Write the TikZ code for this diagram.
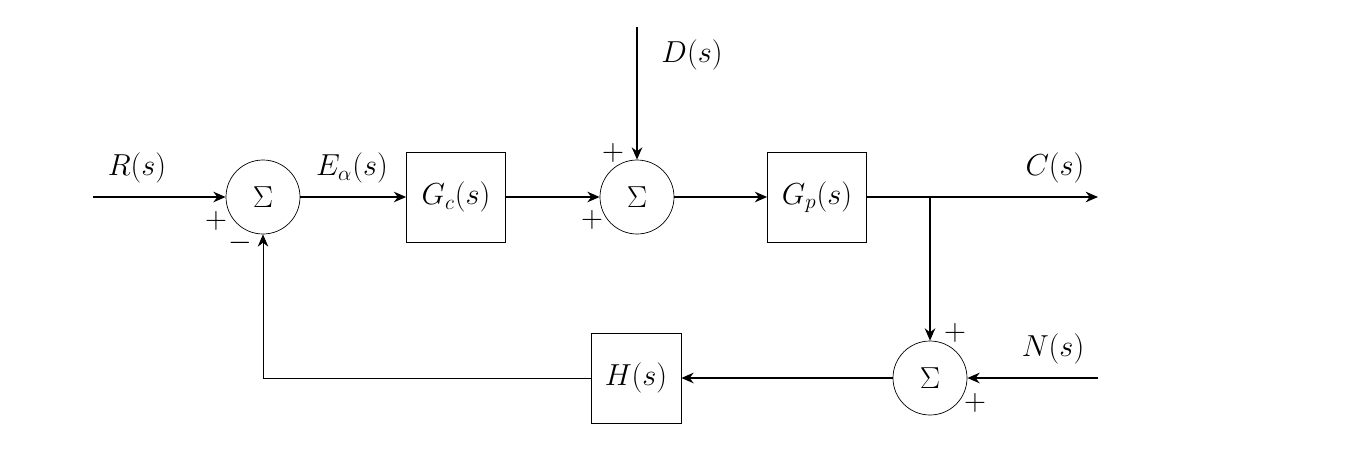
\documentclass[tikz,border=0pt]{standalone}
\usetikzlibrary{arrows.meta}
\begin{document}
\begin{tikzpicture}[x=0.02cm,y=-0.02cm,font=\fontsize{17}{20}\selectfont,
  sum/.style={draw,circle,minimum size=74*0.02cm,inner sep=0pt},
  blk/.style={draw,minimum width=99*0.02cm,minimum height=90*0.02cm,inner sep=0pt},
  sig/.style={draw,line width=1pt,-{Stealth[length=7pt,width=6pt]}},
  lbl/.style={inner sep=0pt}]
\useasboundingbox (0,0) rectangle (1346,460);
\node[sum] (s1) at (263,197) {$\Sigma$};
\node[blk] (gc) at (456,197) {$G_c(s)$};
\node[sum] (s2) at (637,197) {$\Sigma$};
\node[blk] (gp) at (817,197) {$G_p(s)$};
\node[sum] (s3) at (930,378) {$\Sigma$};
\node[blk,minimum width=90*0.02cm] (h) at (636,378) {$H(s)$};
\coordinate (rin) at (93,197);
\coordinate (din) at (637,27);
\coordinate (cout) at (1098,197);
\coordinate (nin) at (1098,378);
\coordinate (br) at (930,197);
\coordinate (fb) at (263,378);
\draw[sig] (rin) -- (s1);
\draw[sig] (s1) -- (gc);
\draw[sig] (gc) -- (s2);
\draw[sig] (din) -- (s2);
\draw[sig] (s2) -- (gp);
\draw[sig] (gp) -- (cout);
\draw[sig] (br) -- (s3);
\draw[sig] (nin) -- (s3);
\draw[sig] (s3) -- (h);
\draw[-{Stealth[length=7pt,width=6pt]}] (h) -- (fb) -- (s1);
\node[lbl] (lr) at (137,168) {$R(s)$};
\node[lbl] (le) at (352,168) {$E_\alpha(s)$};
\node[lbl] (ld) at (692,55) {$D(s)$};
\node[lbl] (lc) at (1055,168) {$C(s)$};
\node[lbl] (ln) at (1053,349) {$N(s)$};
\node[lbl] (p1) at (216,221) {$+$};
\node[lbl] (m1) at (240,243) {$-$};
\node[lbl] (p2) at (613,153) {$+$};
\node[lbl] (p3) at (592,220) {$+$};
\node[lbl] (p4) at (955,333) {$+$};
\node[lbl] (p5) at (975,403) {$+$};
\end{tikzpicture}
\end{document}
